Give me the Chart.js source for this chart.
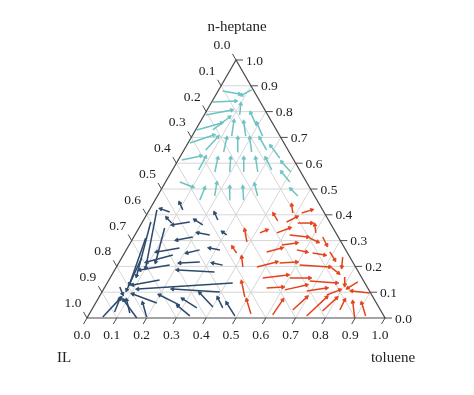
<!DOCTYPE html>
<html><head><meta charset="utf-8">
<script src="https://cdn.jsdelivr.net/npm/chart.js@4"></script>
<style>html,body{margin:0;padding:0;background:#fff}canvas{display:block}</style>
</head><body>
<canvas id="c" width="474" height="395"></canvas>
<script>
// ---- axis / tick data ----
const titleTop = 'n-heptane';
const titleLeft = 'IL';
const titleRight = 'toluene';
const tickValues = [0, 0.1, 0.2, 0.3, 0.4, 0.5, 0.6, 0.7, 0.8, 0.9, 1.0];
const tickLabels = ['0.0','0.1','0.2','0.3','0.4','0.5','0.6','0.7','0.8','0.9','1.0'];
const gridValues = [0.1, 0.2, 0.3, 0.4, 0.5, 0.6, 0.7, 0.8, 0.9];

// ---- arrows: tail (toluene, n-heptane) -> head (toluene, n-heptane) ----
const tealTailT = [0.015,0.111,0.003,0.119,0.005,0.197,0.004,0.058,0.133,0.180,0.237,0.006,0.073,0.137,0.184,0.231,0.277,0.337,0.012,0.088,0.146,0.196,0.243,0.290,0.333,0.417,0.048,0.150,0.192,0.250,0.297,0.336,0.471,0.401];
const tealTailH = [0.880,0.884,0.837,0.787,0.787,0.744,0.729,0.729,0.705,0.705,0.705,0.678,0.651,0.643,0.643,0.643,0.651,0.620,0.612,0.574,0.566,0.566,0.566,0.566,0.574,0.527,0.527,0.457,0.473,0.457,0.457,0.473,0.473,0.566];
const tealHeadT = [0.078,0.087,0.079,0.101,0.083,0.152,0.074,0.089,0.111,0.146,0.192,0.071,0.088,0.120,0.157,0.197,0.231,0.283,0.068,0.086,0.129,0.172,0.216,0.256,0.290,0.370,0.101,0.143,0.174,0.225,0.269,0.303,0.434,0.351];
const tealHeadH = [0.868,0.864,0.841,0.830,0.806,0.795,0.756,0.779,0.764,0.760,0.756,0.709,0.702,0.698,0.698,0.698,0.698,0.667,0.628,0.624,0.620,0.620,0.620,0.620,0.620,0.566,0.508,0.504,0.523,0.508,0.508,0.519,0.500,0.605];

const navyTailT = [0.025,0.028,0.042,0.086,0.067,0.072,0.112,0.100,0.159,0.208,0.249,0.198,0.251,0.308,0.175,0.246,0.314,0.166,0.270,0.353,0.175,0.339,0.421,0.170,0.395,0.205,0.286,0.349,0.401,0.436,0.134,0.198,0.081,0.051,0.167,0.050,0.492,0.341];
const navyTailH = [0.419,0.372,0.310,0.349,0.233,0.411,0.419,0.368,0.372,0.361,0.380,0.314,0.322,0.322,0.271,0.264,0.264,0.244,0.217,0.205,0.205,0.178,0.136,0.147,0.101,0.058,0.050,0.039,0.043,0.039,0.019,0.004,0.023,0.004,0.000,0.120,0.008,0.008];
const navyHeadT = [0.100,0.085,0.077,0.122,0.079,0.036,0.088,0.074,0.107,0.172,0.225,0.150,0.207,0.289,0.106,0.209,0.276,0.092,0.205,0.315,0.084,0.211,0.114,0.089,0.231,0.107,0.199,0.284,0.330,0.400,0.098,0.158,0.073,0.074,0.088,0.073,0.440,0.281];
const navyHeadH = [0.194,0.163,0.132,0.217,0.109,0.423,0.446,0.388,0.361,0.380,0.407,0.302,0.330,0.333,0.256,0.252,0.271,0.217,0.213,0.213,0.186,0.186,0.112,0.128,0.112,0.093,0.089,0.074,0.097,0.078,0.070,0.058,0.074,0.078,0.070,0.093,0.058,0.047];

const redTailT = [0.487,0.517,0.452,0.484,0.523,0.603,0.415,0.472,0.519,0.592,0.634,0.389,0.376,0.475,0.512,0.572,0.631,0.687,0.740,0.424,0.471,0.540,0.611,0.724,0.785,0.839,0.512,0.603,0.676,0.545,0.609,0.685,0.760,0.900,0.489,0.617,0.675,0.733,0.777,0.833,0.898,0.542,0.931];
const redTailH = [0.407,0.407,0.376,0.372,0.368,0.330,0.330,0.330,0.322,0.310,0.314,0.295,0.252,0.256,0.283,0.264,0.252,0.256,0.236,0.198,0.198,0.213,0.205,0.194,0.159,0.140,0.155,0.155,0.143,0.116,0.109,0.105,0.089,0.097,0.081,0.012,0.031,0.008,0.027,0.031,0.000,0.016,0.008];
const redHeadT = [0.468,0.545,0.425,0.508,0.570,0.584,0.433,0.506,0.584,0.627,0.663,0.359,0.351,0.518,0.558,0.609,0.676,0.719,0.756,0.401,0.528,0.595,0.716,0.757,0.801,0.817,0.590,0.670,0.770,0.597,0.673,0.746,0.794,0.836,0.449,0.622,0.697,0.764,0.799,0.830,0.861,0.501,0.893];
const redHeadH = [0.438,0.419,0.403,0.392,0.368,0.361,0.341,0.349,0.314,0.295,0.283,0.341,0.275,0.271,0.291,0.256,0.244,0.225,0.198,0.236,0.217,0.217,0.198,0.174,0.128,0.116,0.167,0.155,0.136,0.120,0.128,0.116,0.109,0.105,0.140,0.070,0.081,0.081,0.078,0.070,0.062,0.070,0.058];

const tealColor = '#6cc3c3';
const navyColor = '#2d4a6c';
const redColor = '#e4421c';

// ---- ternary -> cartesian data space ----
const S3 = Math.sqrt(3) / 2;
function cart(t, h) { return { x: t + h / 2, y: h * S3 }; }

function arrowDatasets(color, tt, th, ht, hh) {
  const out = [];
  for (let i = 0; i < tt.length; i++) {
    const a = cart(tt[i], th[i]), b = cart(ht[i], hh[i]);
    const rot = Math.atan2(b.x - a.x, b.y - a.y) * 180 / Math.PI;
    out.push({
      data: [a, b],
      showLine: true,
      borderColor: color,
      borderWidth: 1.5,
      pointStyle: 'triangle',
      pointRadius: [0, 2.2],
      pointHoverRadius: [0, 2.2],
      pointRotation: [0, rot],
      pointBackgroundColor: color,
      pointBorderColor: color,
      pointBorderWidth: 0.8,
      clip: false
    });
  }
  return out;
}

const ternaryFrame = {
  id: 'ternaryFrame',
  beforeDatasetsDraw(chart) {
    const { ctx, scales: { x: xs, y: ys } } = chart;
    const P = (t, h) => [xs.getPixelForValue(t + h / 2), ys.getPixelForValue(h * S3)];
    const seg = (p, q) => { ctx.beginPath(); ctx.moveTo(p[0], p[1]); ctx.lineTo(q[0], q[1]); ctx.stroke(); };
    ctx.save();
    ctx.strokeStyle = '#d6d6d6';
    ctx.lineWidth = 1;
    for (const v of gridValues) {
      seg(P(0, v), P(1 - v, v));
      seg(P(v, 0), P(v, 1 - v));
      seg(P(1 - v, 0), P(0, 1 - v));
    }
    ctx.restore();
  },
  afterDatasetsDraw(chart) {
    const { ctx, scales: { x: xs, y: ys } } = chart;
    const P = (t, h) => [xs.getPixelForValue(t + h / 2), ys.getPixelForValue(h * S3)];
    const seg = (p, q) => { ctx.beginPath(); ctx.moveTo(p[0], p[1]); ctx.lineTo(q[0], q[1]); ctx.stroke(); };
    ctx.save();
    ctx.strokeStyle = '#4a4a4a';
    ctx.lineWidth = 1.2;
    const A = P(0, 0), B = P(1, 0), C = P(0, 1);
    ctx.beginPath(); ctx.moveTo(A[0], A[1]); ctx.lineTo(B[0], B[1]); ctx.lineTo(C[0], C[1]); ctx.closePath(); ctx.stroke();
    ctx.lineWidth = 1;
    const L = 7;
    ctx.fillStyle = '#222';
    ctx.font = '13.5px "Liberation Serif", "Times New Roman", serif';
    tickValues.forEach((v, i) => {
      let p = P(v, 0);
      seg(p, [p[0] - L * 0.5, p[1] + L * S3]);
      ctx.textAlign = 'center'; ctx.textBaseline = 'middle';
      ctx.fillText(tickLabels[i], p[0] - 5, p[1] + 17);
      p = P(1 - v, v);
      seg(p, [p[0] + L, p[1]]);
      ctx.textAlign = 'left';
      ctx.fillText(tickLabels[i], p[0] + 10, p[1] + 1);
      p = P(0, 1 - v);
      seg(p, [p[0] - L * 0.5, p[1] - L * S3]);
      ctx.textAlign = 'center';
      ctx.fillText(tickLabels[i], p[0] - 14, p[1] - 14.5);
    });
    ctx.font = '15px "Liberation Serif", "Times New Roman", serif';
    ctx.textAlign = 'center'; ctx.textBaseline = 'middle';
    ctx.fillText(titleTop, C[0] + 1, C[1] - 33);
    ctx.fillText(titleLeft, A[0] - 23, A[1] + 40);
    ctx.fillText(titleRight, B[0] + 8, B[1] + 40);
    ctx.restore();
  }
};

new Chart(document.getElementById('c'), {
  type: 'scatter',
  data: {
    datasets: [
      ...arrowDatasets(tealColor, tealTailT, tealTailH, tealHeadT, tealHeadH),
      ...arrowDatasets(navyColor, navyTailT, navyTailH, navyHeadT, navyHeadH),
      ...arrowDatasets(redColor, redTailT, redTailH, redHeadT, redHeadH)
    ]
  },
  options: {
    responsive: false,
    animation: false,
    devicePixelRatio: 1,
    layout: { padding: { left: 87, right: 89, top: 60, bottom: 77 } },
    scales: {
      x: { type: 'linear', min: 0, max: 1, display: false },
      y: { type: 'linear', min: 0, max: S3, display: false }
    },
    plugins: { legend: { display: false }, tooltip: { enabled: false } },
    events: []
  },
  plugins: [ternaryFrame]
});
</script>
</body></html>
